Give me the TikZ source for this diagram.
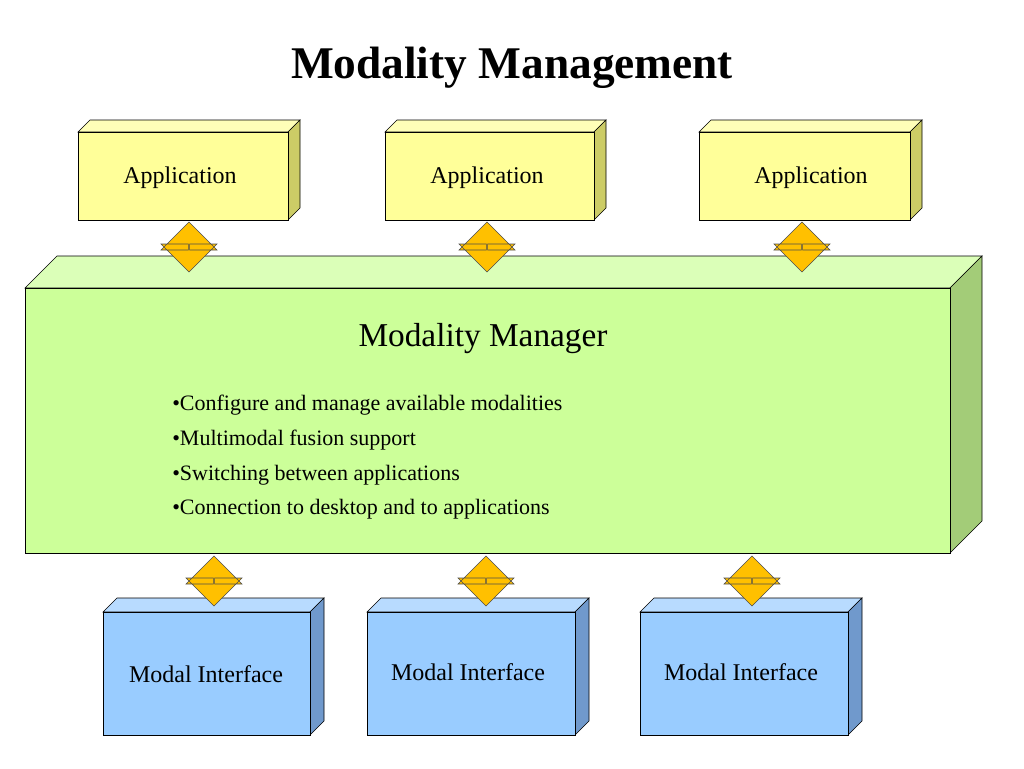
\documentclass[tikz,border=0pt]{standalone}
\usepackage{fontspec}
\setmainfont{Liberation Serif}
\usetikzlibrary{shapes.arrows}

\definecolor{appfront}{HTML}{FFFF99}
\definecolor{appside}{HTML}{CCCC66}
\definecolor{mgrfront}{HTML}{CCFF99}
\definecolor{mgrside}{HTML}{A3CC78}
\definecolor{mifront}{HTML}{99CCFF}
\definecolor{miside}{HTML}{7099CC}
\definecolor{arrowfill}{HTML}{FFC000}

% cuboid: name, x1, y1, x2, y2, depth, front colour, side colour
\newcommand{\cuboid}[8]{%
  \draw[thin, fill=#7!70!white] (#2,#3) -- ++(#6,-#6) -- (#4+#6,#3-#6) -- (#4,#3) -- cycle;
  \draw[thin, fill=#8] (#4,#3) -- (#4+#6,#3-#6) -- (#4+#6,#5-#6) -- (#4,#5) -- cycle;
  \draw[thin, fill=#7] (#2,#3) rectangle (#4,#5);
  \coordinate (#1) at ({(#2+#4)/2},{(#3+#5)/2});
}

\begin{document}
\begin{tikzpicture}[x=0.75pt, y=-0.75pt,
  dblarrow/.style={double arrow, draw=black!70, fill=arrowfill, thin,
    rotate=90, minimum height=37.5pt, minimum width=42pt,
    double arrow head extend=10pt, inner sep=0pt},
  boxtext/.style={font=\fontsize{18}{20}\selectfont}]
\useasboundingbox (0,0) rectangle (1024,768);

% title
\node[font=\bfseries\fontsize{34}{38}\selectfont] (title) at (512,68) {Modality Management};

% applications
\cuboid{app1}{78}{132}{288}{220}{12}{appfront}{appside}
\cuboid{app2}{385}{132}{594}{220}{12}{appfront}{appside}
\cuboid{app3}{699}{132}{910}{220}{12}{appfront}{appside}
\node[boxtext] (app1t) at (180,178) {Application};
\node[boxtext] (app2t) at (487,178) {Application};
\node[boxtext] (app3t) at (811,178) {Application};

% manager
\cuboid{mgr}{25}{288}{950}{553}{32}{mgrfront}{mgrside}
\node[font=\fontsize{25}{28}\selectfont] (mgrt) at (483,339) {Modality Manager};
\node[anchor=north west, align=left, font=\fontsize{16.5}{26}\selectfont, inner sep=0pt]
  (bullets) at (172,395) {%
  •Configure and manage available modalities\\
  •Multimodal fusion support\\
  •Switching between applications\\
  •Connection to desktop and to applications};

% modal interfaces
\cuboid{mi1}{103}{612}{310}{735}{14}{mifront}{miside}
\cuboid{mi2}{367}{612}{575}{735}{14}{mifront}{miside}
\cuboid{mi3}{640}{612}{848}{735}{14}{mifront}{miside}
\node[boxtext] (mi1t) at (206,674) {Modal Interface};
\node[boxtext] (mi2t) at (468,672) {Modal Interface};
\node[boxtext] (mi3t) at (741,672) {Modal Interface};

% arrows
\foreach \x/\n in {189/a1, 487/a2, 802/a3}
  \node[dblarrow] (up\n) at (\x,247) {};
\foreach \x/\n in {214/m1, 486/m2, 752/m3}
  \node[dblarrow] (dn\n) at (\x,581) {};
\end{tikzpicture}
\end{document}
